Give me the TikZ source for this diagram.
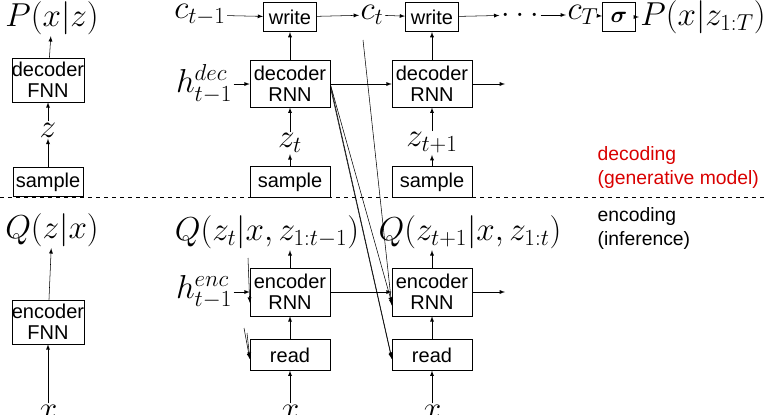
\documentclass[tikz,border=0pt]{standalone}
\usepackage{fontspec}
\setmainfont{Liberation Sans}
\usepackage{amsmath,bm}
\begin{document}
\begin{tikzpicture}[x=0.75pt,y=-0.75pt, >=latex,
  box/.style={draw, align=center, font=\fontsize{15}{15.5}\selectfont, inner sep=0pt},
  lbl/.style={font=\fontsize{23}{24}\selectfont, inner sep=1pt}]
\useasboundingbox (0,0) rectangle (770,414);
\draw[dashed] (0,197) -- (765,197);
% Left column
\node[lbl] (pxz) at (52,18) {$P(x|z)$};
\node[box, minimum width=52.5pt, minimum height=33pt] (dfnn) at (48,80) {decoder\\FNN};
\node[lbl] (z) at (48,130) {$z$};
\node[box, minimum width=52.5pt, minimum height=22pt] (s0) at (48,182) {sample};
\node[lbl] (qzx) at (52,230) {$Q(z|x)$};
\node[box, minimum width=52.5pt, minimum height=33pt] (efnn) at (48,322) {encoder\\FNN};
\node[lbl] (x0) at (48,412) {$x$};
\draw[->] (x0) -- (efnn);
\draw[->] (efnn) -- (qzx);
\draw[->] (s0) -- (z);
\draw[->] (z) -- (dfnn);
\draw[->] (dfnn) -- (pxz);
% Time steps
\foreach \n/\cx/\zl/\ql/\qx in {a/290/{z_t}/{Q(z_t|x,z_{1:t-1})}/267, b/432/{z_{t+1}}/{Q(z_{t+1}|x,z_{1:t})}/470}{
  \node[box, minimum width=40pt, minimum height=22pt] (w\n) at (\cx,17) {write};
  \node[box, minimum width=60pt, minimum height=35pt] (d\n) at (\cx,84) {decoder\\RNN};
  \node[lbl] (z\n) at (\cx,143) {$\zl$};
  \node[box, minimum width=60pt, minimum height=23pt] (s\n) at (\cx,182) {sample};
  \node[lbl] (q\n) at (\qx,232) {$\ql$};
  \node[box, minimum width=60pt, minimum height=36pt] (e\n) at (\cx,292) {encoder\\RNN};
  \node[box, minimum width=60pt, minimum height=23pt] (r\n) at (\cx,355) {read};
  \node[lbl] (x\n) at (\cx,412) {$x$};
  \draw[->] (x\n) -- (r\n);
  \draw[->] (r\n) -- (e\n);
  \draw[->] (e\n) -- (q\n.south -| e\n);
  \draw[->] (s\n) -- (z\n);
  \draw[->] (z\n) -- (d\n);
  \draw[->] (d\n) -- (w\n);
}
% Top row
\node[lbl] (cprev) at (200,15) {$c_{t-1}$};
\node[lbl] (ct) at (372,15) {$c_t$};
\node[lbl] (dots) at (520,15) {$\ldots$};
\node[lbl] (cT) at (583,15) {$c_T$};
\node[box, minimum width=25pt, minimum height=22pt, font=\fontsize{17}{18}\selectfont] (sig) at (619,17) {$\bm{\sigma}$};
\node[lbl] (pxT) at (703,17) {$P(x|z_{1:T})$};
\draw[->] (cprev) -- (wa);
\draw[->] (wa) -- (ct);
\draw[->] (ct) -- (wb);
\draw[->] (wb) -- (dots);
\draw[->] (dots) -- (cT);
\draw[->] (cT) -- (sig);
\draw[->] (sig) -- (pxT);
% Hidden states
\node[lbl] (hdec) at (204,84) {$h^{dec}_{t-1}$};
\node[lbl] (henc) at (204,292) {$h^{enc}_{t-1}$};
\draw[->] (hdec) -- (da);
\draw[->] (henc) -- (ea);
\draw[->] (da) -- (db);
\draw[->] (ea) -- (eb);
\coordinate (dout) at (505,84);
\coordinate (eout) at (505,292);
\draw[->] (db) -- (dout);
\draw[->] (eb) -- (eout);
% Links into next read/encoder
\draw[->] (da.east) -- ([yshift=-8pt]eb.west);
\draw[->] (da.east) -- ([yshift=-2pt]rb.west);
\draw[->] ([yshift=-2pt]da.east) -- ([yshift=-3pt]rb.west);
\coordinate (cdown) at (363,40);
\draw[->] (cdown) -- ([yshift=-10pt]eb.west);
\coordinate (hin) at (248,258);
\coordinate (rin1) at (244,328);
\coordinate (rin2) at (247,333);
\draw[->] (hin) -- ([yshift=-8pt]ea.west);
\draw[->] (rin1) -- ([yshift=-3pt]ra.west);
\draw[->] (rin2) -- ([yshift=-2pt]ra.west);
% Legend
\node[anchor=west, align=left, text=red!85!black, font=\fontsize{14.5}{18}\selectfont] (dec) at (593,167) {decoding\\(generative model)};
\node[anchor=west, align=left, font=\fontsize{14.5}{18}\selectfont] (enc) at (593,228) {encoding\\(inference)};
\end{tikzpicture}
\end{document}
